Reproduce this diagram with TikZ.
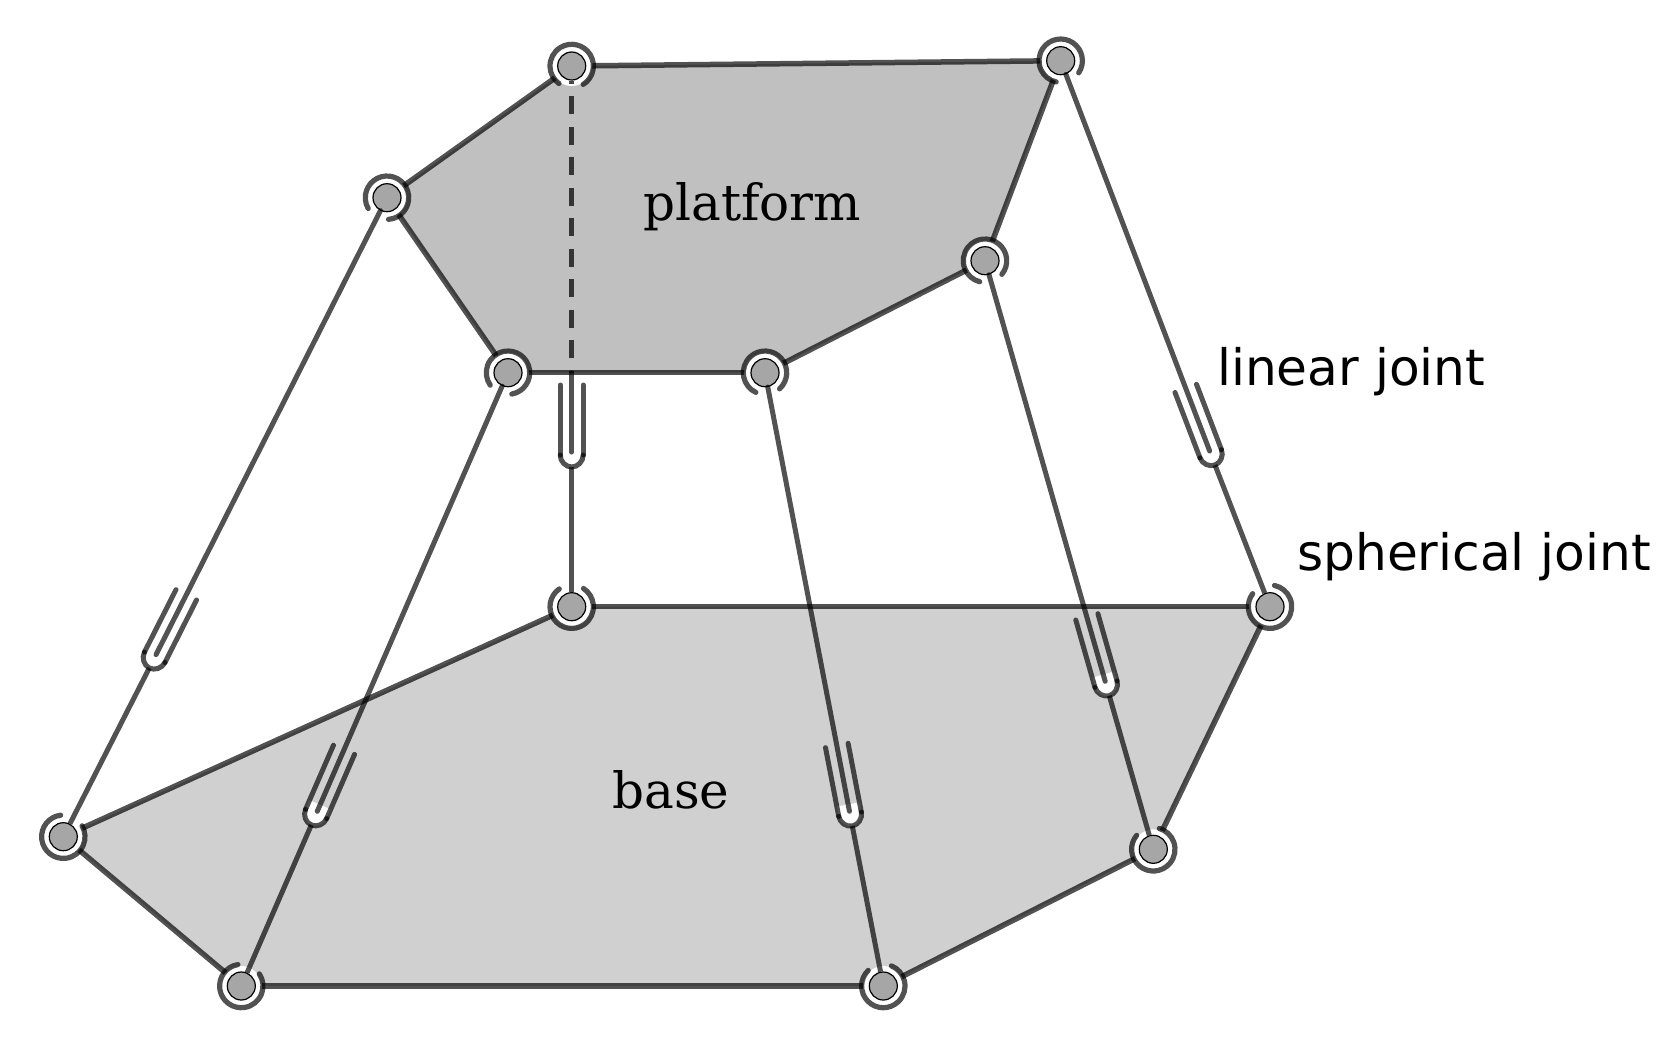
\documentclass[tikz,border=0pt]{standalone}
\usepackage{fontspec}
\setmainfont{DejaVu Serif}
\setsansfont{DejaVu Sans}
\usetikzlibrary{calc,backgrounds}
\definecolor{platfill}{HTML}{C0C0C0}
\definecolor{basefill}{HTML}{D0D0D0}
\definecolor{jointfill}{HTML}{A6A6A6}
\tikzset{
  x=1pt,y=-1pt,
  joint/.style={circle,draw=black,line width=1.2pt,fill=jointfill,minimum size=28pt,inner sep=0pt},
  edgeline/.style={draw=black,draw opacity=.68,line width=5.5pt,shorten >=6pt,shorten <=6pt},
  legline/.style={draw=black,draw opacity=.68,line width=5pt},
  forkline/.style={draw=black,draw opacity=.68,line width=5pt,line cap=round},
  ringline/.style={draw=black,draw opacity=.68,line width=5.2pt,line cap=round},
  dashline/.style={draw=black,draw opacity=.72,line width=5.5pt,dash pattern=on 18pt off 12.5pt,dash phase=14.8pt},
  labelsans/.style={inner sep=0pt,anchor=base west,font=\sffamily\fontsize{50.2}{60}\selectfont},
  labelserif/.style={inner sep=0pt,anchor=base west,font=\rmfamily\fontsize{50}{60}\selectfont},
}
\newcommand{\jring}[3]{\draw[ringline] ([shift={(#3+10:21.7pt)}]#1.center) arc[start angle=#3+10,end angle={#2+360-10},radius=21.7pt];}
\newcommand{\forkshape}[2]{%
  \begin{scope}[shift={(#1)},rotate=#2,x=1pt,y=1pt]
    \fill[white] (-11.5,12) .. controls (-11.5,5.5) and (-6,0) .. (0,0) .. controls (6,0) and (11.5,5.5) .. (11.5,12) -- (11.5,22) -- (-11.5,22) -- cycle;
    \coordinate (#1t) at (0,15);
    \draw[forkline] (-11.5,12) -- (-11.5,82);
    \draw[forkline] (11.5,12) -- (11.5,82);
    \draw[forkline] (-11.5,12) .. controls (-11.5,5.5) and (-6,0) .. (0,0) .. controls (6,0) and (11.5,5.5) .. (11.5,12);
  \end{scope}}
\begin{document}
\begin{tikzpicture}
\useasboundingbox (0,0) rectangle (1680,1039);
% joints
\node[joint] (P1) at (571.7,66) {};
\node[joint] (P2) at (1060.7,60.7) {};
\node[joint] (P3) at (387,197.7) {};
\node[joint] (P4) at (508,372.7) {};
\node[joint] (P5) at (765,372.7) {};
\node[joint] (P6) at (985,260.7) {};
\node[joint] (B1) at (571.7,606.7) {};
\node[joint] (B2) at (1270,606.7) {};
\node[joint] (B3) at (1153.3,849.3) {};
\node[joint] (B4) at (883.3,986) {};
\node[joint] (B5) at (241.3,986) {};
\node[joint] (B6) at (63.3,836.7) {};
\coordinate (M1) at (571.7,372.7);
\coordinate (F1) at (571.7,467);
\coordinate (F2) at (1215,465);
\coordinate (F3) at (149.3,668);
\coordinate (F4) at (311.3,825);
\coordinate (F5) at (852.3,826);
\coordinate (F6) at (1109.3,695.7);
% plates and white halos underneath
\begin{pgfonlayer}{background}
  \fill[platfill] (P1.center) -- (P2.center) -- (P6.center) -- (P5.center) -- (P4.center) -- (P3.center) -- cycle;
  \fill[basefill] (B1.center) -- (B2.center) -- (B3.center) -- (B4.center) -- (B5.center) -- (B6.center) -- cycle;
  \foreach \j in {P1,P2,P3,P4,P5,P6,B1,B2,B3,B4,B5,B6}
    \fill[white] (\j.center) circle[radius=20pt];
\end{pgfonlayer}
% plate edges
\draw[edgeline] (P1) -- (P2);
\draw[edgeline] (P2) -- (P6);
\draw[edgeline] (P6) -- (P5);
\draw[edgeline] (P5) -- (P4);
\draw[edgeline] (P4) -- (P3);
\draw[edgeline] (P3) -- (P1);
\draw[edgeline] (B1) -- (B2);
\draw[edgeline] (B2) -- (B3);
\draw[edgeline] (B3) -- (B4);
\draw[edgeline] (B4) -- (B5);
\draw[edgeline] (B5) -- (B6);
\draw[edgeline] (B6) -- (B1);
% forks
\forkshape{F1}{0}
\forkshape{F2}{20.9}
\forkshape{F3}{-26.8}
\forkshape{F4}{-23.5}
\forkshape{F5}{10.9}
\forkshape{F6}{15.9}
% legs
\draw[dashline] (P1) -- (M1);
\draw[forkline] (M1) -- (F1t);
\draw[forkline] (F2t) -- (P2);
\draw[forkline] (F3t) -- (P3);
\draw[forkline] (F4t) -- (P4);
\draw[forkline] (F5t) -- (P5);
\draw[forkline] (F6t) -- (P6);
\draw[legline] (F1) -- (B1);
\draw[legline] (F2) -- (B2);
\draw[legline] (F3) -- (B6);
\draw[legline] (F4) -- (B5);
\draw[legline] (F5) -- (B4);
\draw[legline] (F6) -- (B3);
% rings
\jring{P1}{244}{292}
\jring{P2}{268}{316}
\jring{P3}{220}{264}
\jring{P4}{225}{270}
\jring{P5}{255}{302}
\jring{P6}{266}{311}
\jring{B1}{67}{115}
\jring{B2}{88}{133}
\jring{B3}{84}{130}
\jring{B4}{78}{124}
\jring{B5}{44}{89}
\jring{B6}{40}{87}
% labels
\node[labelserif] (tplat) at (643,220) {platform};
\node[labelserif] (tbase) at (612,808) {base};
\node[labelsans] (tlin) at (1217,385) {linear joint};
\node[labelsans] (tsph) at (1297,570) {spherical joint};
\end{tikzpicture}
\end{document}
